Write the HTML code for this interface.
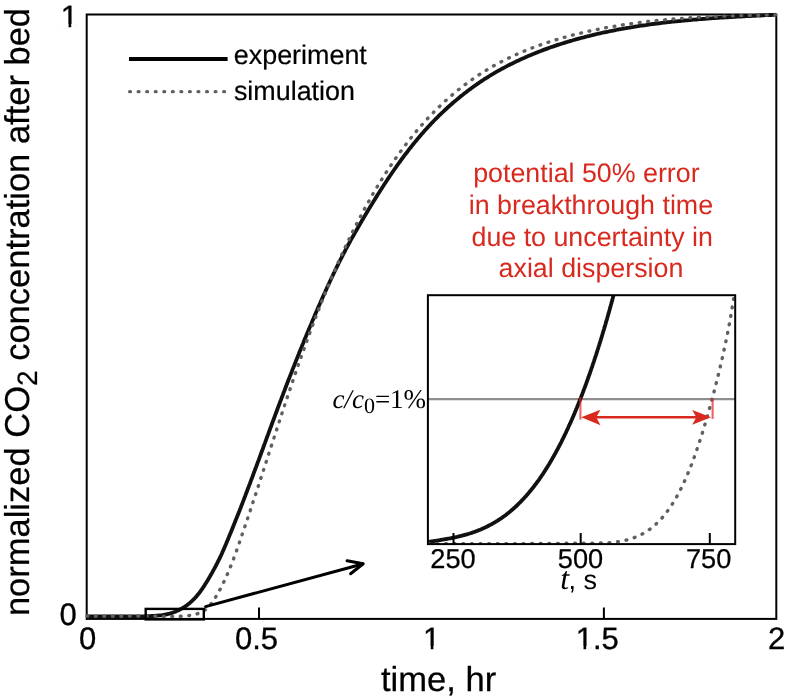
<!DOCTYPE html>
<html><head><meta charset="utf-8"><title>CO2 breakthrough</title>
<style>
html,body{margin:0;padding:0;background:#fff;}
body{width:785px;height:698px;overflow:hidden;}
svg{display:block;text-rendering:geometricPrecision;}
.sans{font-family:"Liberation Sans",Arial,Helvetica,sans-serif;}
.serif{font-family:"Liberation Serif","Times New Roman",Times,serif;}
</style></head>
<body>
<svg width="785" height="698" viewBox="0 0 785 698">
<rect x="0" y="0" width="785" height="698" fill="#fff"/>
<!-- y axis label -->
<text class="sans" font-size="34.5" fill="#000" stroke="#000" stroke-width="0.25" transform="translate(28.9,616.1) rotate(-90)">normalized CO<tspan font-size="28" dy="8.2">2</tspan><tspan dy="-8.2"> concentration after bed</tspan></text>
<!-- y tick labels -->
<g class="sans" font-size="31" fill="#000" stroke="#000" stroke-width="0.35">
<text x="60.7" y="26.7">1</text>
<text x="59.4" y="624.6">0</text>
<!-- x tick labels -->
<text x="79" y="649.2">0</text>
<text x="234.9" y="649.2">0.5</text>
<text x="422.9" y="649.2">1</text>
<text x="575.7" y="649.2">1.5</text>
<text x="767.9" y="649.2">2</text>
</g>
<text class="sans" font-size="34.6" fill="#000" stroke="#000" stroke-width="0.25" x="381" y="690.8">time, hr</text>
<!-- hide the foot serif of Liberation "1" (target font is Helvetica) -->
<rect x="62.50" y="24" width="6.02" height="4" fill="#fff"/>
<rect x="71.22" y="24" width="5.68" height="4" fill="#fff"/>
<rect x="424.70" y="646" width="6.02" height="4" fill="#fff"/>
<rect x="433.42" y="646" width="5.68" height="4" fill="#fff"/>
<rect x="577.50" y="646" width="6.02" height="4" fill="#fff"/>
<rect x="586.22" y="646" width="5.68" height="4" fill="#fff"/>
<!-- main frame -->
<rect x="86.7" y="14.5" width="689.6" height="604.4" fill="none" stroke="#000" stroke-width="2"/>
<line x1="259" y1="607.5" x2="259" y2="619" stroke="#000" stroke-width="2"/>
<line x1="603.9" y1="607.5" x2="603.9" y2="619" stroke="#000" stroke-width="2"/>
<!-- legend -->
<line x1="129" y1="58.9" x2="227.6" y2="58.9" stroke="#000" stroke-width="4"/>
<line x1="129.6" y1="91.7" x2="227" y2="91.7" stroke="#606060" stroke-width="3.2" stroke-linecap="round" stroke-dasharray="0.9 7.65"/>
<text class="sans" font-size="26.9" fill="#000" stroke="#000" stroke-width="0.2" x="233.8" y="63.7">experiment</text>
<text class="sans" font-size="26.9" fill="#000" stroke="#000" stroke-width="0.2" x="233.9" y="99.8">simulation</text>
<!-- main curves -->
<path d="M86.9,616.5L88.5,616.5L90.0,616.5L91.5,616.5L93.0,616.5L94.6,616.5L96.1,616.5L97.6,616.5L99.1,616.5L100.6,616.5L102.1,616.5L103.6,616.5L105.1,616.5L106.6,616.5L108.1,616.5L109.6,616.5L111.1,616.5L112.6,616.5L114.1,616.5L115.6,616.5L117.0,616.5L118.5,616.5L120.0,616.5L121.5,616.5L123.0,616.5L124.5,616.5L126.0,616.5L127.4,616.4L128.9,616.4L130.4,616.4L131.9,616.4L133.4,616.4L134.9,616.4L136.4,616.4L137.9,616.4L139.4,616.4L140.9,616.3L142.5,616.3L144.0,616.3L145.5,616.2L147.0,616.2L148.6,616.2L150.1,616.1L151.6,616.0L153.2,616.0L154.7,615.9L156.2,615.7L157.7,615.6L159.3,615.4L160.8,615.3L162.3,615.1L163.8,614.8L165.2,614.5L166.7,614.3L168.2,613.9L169.6,613.6L171.1,613.2L172.5,612.7L173.9,612.2L175.3,611.7L176.6,611.1L178.0,610.5L179.3,609.9L180.6,609.2L181.9,608.5L183.2,607.7L184.5,606.9L185.7,606.1L186.9,605.2L188.1,604.3L189.3,603.4L190.4,602.4L191.5,601.5L192.6,600.4L193.6,599.4L194.7,598.3L195.7,597.2L196.7,596.1L197.6,594.9L198.6,593.8L199.5,592.6L200.4,591.3L201.3,590.1L202.2,588.9L203.0,587.6L203.9,586.4L204.7,585.1L205.5,583.8L206.3,582.5L207.1,581.2L207.9,579.9L208.7,578.6L209.4,577.3L210.2,576.0L210.9,574.7L211.7,573.4L212.4,572.1L213.1,570.8L213.9,569.4L214.6,568.1L215.3,566.8L216.0,565.5L216.7,564.2L217.4,562.9L218.0,561.5L218.7,560.2L219.4,558.9L220.0,557.5L220.6,556.2L221.3,554.8L221.9,553.5L222.5,552.1L223.1,550.7L223.7,549.4L224.3,548.0L224.9,546.6L225.5,545.2L226.1,543.8L226.6,542.5L227.2,541.1L227.8,539.7L228.4,538.3L228.9,536.9L229.5,535.5L230.1,534.1L230.7,532.8L231.2,531.4L231.8,530.0L232.4,528.6L232.9,527.2L233.5,525.8L234.0,524.4L234.6,523.0L235.2,521.6L235.7,520.2L236.3,518.8L236.8,517.4L237.4,516.1L237.9,514.7L238.5,513.3L239.0,511.9L239.6,510.5L240.1,509.1L240.7,507.7L241.2,506.3L241.7,504.9L242.3,503.5L242.8,502.1L243.4,500.7L243.9,499.3L244.4,497.9L245.0,496.5L245.5,495.1L246.0,493.7L246.6,492.3L247.1,490.9L247.6,489.5L248.2,488.1L248.7,486.7L249.2,485.3L249.8,483.9L250.3,482.5L250.8,481.1L251.3,479.7L251.9,478.3L252.4,476.9L252.9,475.5L253.4,474.0L254.0,472.6L254.5,471.2L255.0,469.8L255.5,468.4L256.1,467.0L256.6,465.6L257.1,464.2L257.6,462.8L258.1,461.4L258.7,460.0L259.2,458.6L259.7,457.2L260.2,455.8L260.7,454.4L261.2,453.0L261.8,451.6L262.3,450.2L262.8,448.8L263.3,447.4L263.8,446.0L264.3,444.6L264.9,443.1L265.4,441.7L265.9,440.3L266.4,438.9L266.9,437.5L267.4,436.1L268.0,434.7L268.5,433.3L269.0,431.9L269.5,430.5L270.0,429.1L270.5,427.7L271.1,426.3L271.6,424.9L272.1,423.5L272.6,422.1L273.1,420.7L273.7,419.3L274.2,417.9L274.7,416.5L275.2,415.1L275.7,413.7L276.3,412.3L276.8,410.9L277.3,409.5L277.8,408.1L278.3,406.7L278.9,405.3L279.4,403.9L279.9,402.5L280.4,401.1L281.0,399.7L281.5,398.3L282.0,396.9L282.6,395.5L283.1,394.1L283.6,392.7L284.1,391.4L284.7,390.0L285.2,388.6L285.7,387.2L286.3,385.8L286.8,384.4L287.3,383.0L287.9,381.6L288.4,380.2L289.0,378.8L289.5,377.4L290.0,376.1L290.6,374.7L291.1,373.3L291.7,371.9L292.2,370.5L292.7,369.1L293.3,367.7L293.8,366.4L294.4,365.0L294.9,363.6L295.5,362.2L296.0,360.8L296.6,359.4L297.1,358.1L297.7,356.7L298.2,355.3L298.8,353.9L299.3,352.5L299.9,351.1L300.5,349.8L301.0,348.4L301.6,347.0L302.1,345.6L302.7,344.3L303.3,342.9L303.8,341.5L304.4,340.1L304.9,338.8L305.5,337.4L306.1,336.0L306.7,334.6L307.2,333.3L307.8,331.9L308.4,330.5L308.9,329.1L309.5,327.8L310.1,326.4L310.7,325.0L311.3,323.7L311.8,322.3L312.4,320.9L313.0,319.5L313.6,318.2L314.2,316.8L314.8,315.4L315.4,314.1L315.9,312.7L316.5,311.3L317.1,310.0L317.7,308.6L318.3,307.2L318.9,305.9L319.5,304.5L320.1,303.2L320.7,301.8L321.3,300.4L321.9,299.1L322.5,297.7L323.1,296.3L323.7,295.0L324.4,293.6L325.0,292.3L325.6,290.9L326.2,289.6L326.8,288.2L327.4,286.8L328.1,285.5L328.7,284.1L329.3,282.8L329.9,281.4L330.6,280.1L331.2,278.7L331.8,277.4L332.5,276.1L333.1,274.7L333.7,273.4L334.4,272.0L335.0,270.7L335.7,269.4L336.3,268.0L337.0,266.7L337.6,265.4L338.3,264.1L338.9,262.7L339.6,261.4L340.2,260.1L340.9,258.8L341.6,257.5L342.3,256.2L342.9,254.9L343.6,253.6L344.3,252.3L345.0,251.0L345.6,249.7L346.3,248.4L347.0,247.1L347.7,245.8L348.4,244.5L349.1,243.2L349.8,242.0L350.5,240.7L351.2,239.4L351.9,238.1L352.7,236.9L353.4,235.6L354.1,234.3L354.8,233.1L355.5,231.8L356.3,230.5L357.0,229.3L357.7,228.0L358.4,226.8L359.2,225.5L359.9,224.2L360.6,223.0L361.4,221.7L362.1,220.4L362.9,219.2L363.6,217.9L364.4,216.6L365.1,215.4L365.9,214.1L366.6,212.8L367.4,211.6L368.1,210.3L368.9,209.0L369.7,207.8L370.4,206.5L371.2,205.2L372.0,204.0L372.8,202.7L373.5,201.4L374.3,200.2L375.1,198.9L375.9,197.6L376.7,196.4L377.5,195.1L378.3,193.8L379.1,192.6L379.9,191.3L380.7,190.0L381.5,188.8L382.3,187.5L383.1,186.3L383.9,185.0L384.7,183.8L385.6,182.5L386.4,181.2L387.2,180.0L388.0,178.7L388.9,177.5L389.7,176.3L390.6,175.0L391.4,173.8L392.3,172.5L393.1,171.3L394.0,170.0L394.8,168.8L395.7,167.6L396.6,166.4L397.4,165.1L398.3,163.9L399.2,162.7L400.1,161.5L400.9,160.2L401.8,159.0L402.7,157.8L403.6,156.6L404.5,155.4L405.4,154.2L406.4,153.0L407.3,151.8L408.2,150.6L409.1,149.4L410.0,148.2L411.0,147.1L411.9,145.9L412.8,144.7L413.8,143.5L414.7,142.4L415.7,141.2L416.7,140.1L417.6,138.9L418.6,137.7L419.6,136.6L420.5,135.5L421.5,134.3L422.5,133.2L423.5,132.1L424.5,130.9L425.5,129.8L426.5,128.7L427.5,127.6L428.5,126.5L429.6,125.4L430.6,124.3L431.6,123.2L432.7,122.1L433.7,121.0L434.7,120.0L435.8,118.9L436.9,117.8L437.9,116.8L439.0,115.7L440.1,114.7L441.1,113.6L442.2,112.6L443.3,111.6L444.4,110.5L445.5,109.5L446.6,108.5L447.7,107.5L448.8,106.5L449.9,105.5L451.1,104.5L452.2,103.5L453.3,102.5L454.5,101.6L455.6,100.6L456.8,99.6L457.9,98.7L459.1,97.7L460.2,96.8L461.4,95.8L462.6,94.9L463.7,94.0L464.9,93.1L466.1,92.2L467.3,91.2L468.5,90.3L469.7,89.4L470.9,88.6L472.1,87.7L473.3,86.8L474.5,85.9L475.8,85.1L477.0,84.2L478.2,83.4L479.5,82.5L480.7,81.7L481.9,80.9L483.2,80.0L484.4,79.2L485.7,78.4L487.0,77.6L488.2,76.8L489.5,76.0L490.8,75.2L492.1,74.5L493.4,73.7L494.7,72.9L495.9,72.2L497.2,71.4L498.5,70.7L499.9,70.0L501.2,69.2L502.5,68.5L503.8,67.8L505.1,67.1L506.5,66.4L507.8,65.7L509.1,65.0L510.5,64.3L511.8,63.7L513.2,63.0L514.5,62.3L515.9,61.7L517.2,61.0L518.6,60.4L519.9,59.8L521.3,59.1L522.7,58.5L524.1,57.9L525.4,57.3L526.8,56.7L528.2,56.1L529.6,55.5L531.0,54.9L532.4,54.3L533.8,53.8L535.2,53.2L536.6,52.6L538.0,52.1L539.4,51.5L540.8,51.0L542.2,50.4L543.6,49.9L545.0,49.4L546.4,48.9L547.8,48.4L549.3,47.8L550.7,47.3L552.1,46.8L553.5,46.4L555.0,45.9L556.4,45.4L557.8,44.9L559.3,44.4L560.7,44.0L562.1,43.5L563.6,43.1L565.0,42.6L566.4,42.2L567.9,41.7L569.3,41.3L570.8,40.9L572.2,40.5L573.7,40.0L575.1,39.6L576.6,39.2L578.0,38.8L579.5,38.4L580.9,38.0L582.4,37.6L583.8,37.3L585.3,36.9L586.7,36.5L588.2,36.1L589.6,35.8L591.1,35.4L592.6,35.1L594.0,34.7L595.5,34.4L596.9,34.0L598.4,33.7L599.9,33.4L601.3,33.0L602.8,32.7L604.3,32.4L605.7,32.1L607.2,31.8L608.7,31.5L610.1,31.1L611.6,30.9L613.1,30.6L614.5,30.3L616.0,30.0L617.5,29.7L619.0,29.4L620.4,29.1L621.9,28.9L623.4,28.6L624.9,28.4L626.3,28.1L627.8,27.8L629.3,27.6L630.8,27.3L632.3,27.1L633.7,26.9L635.2,26.6L636.7,26.4L638.2,26.2L639.7,25.9L641.1,25.7L642.6,25.5L644.1,25.3L645.6,25.1L647.1,24.8L648.6,24.6L650.1,24.4L651.5,24.2L653.0,24.0L654.5,23.8L656.0,23.6L657.5,23.5L659.0,23.3L660.5,23.1L662.0,22.9L663.5,22.7L664.9,22.6L666.4,22.4L667.9,22.2L669.4,22.1L670.9,21.9L672.4,21.7L673.9,21.6L675.4,21.4L676.9,21.3L678.4,21.1L679.9,21.0L681.4,20.8L682.9,20.7L684.4,20.5L685.9,20.4L687.4,20.3L688.9,20.1L690.4,20.0L691.9,19.9L693.4,19.7L694.9,19.6L696.4,19.5L697.9,19.4L699.3,19.2L700.8,19.1L702.3,19.0L703.8,18.9L705.3,18.8L706.8,18.7L708.3,18.5L709.8,18.4L711.3,18.3L712.8,18.2L714.4,18.1L715.9,18.0L717.4,17.9L718.9,17.8L720.4,17.7L721.9,17.6L723.4,17.5L724.9,17.4L726.4,17.3L727.9,17.3L729.4,17.2L730.9,17.1L732.4,17.0L733.9,16.9L735.4,16.8L736.9,16.7L738.4,16.6L739.9,16.6L741.4,16.5L742.9,16.4L744.4,16.3L745.9,16.2L747.4,16.2L748.9,16.1L750.4,16.0L751.9,15.9L753.4,15.8L754.9,15.8L756.4,15.7L757.9,15.6L759.4,15.5L760.9,15.5L762.4,15.4L763.9,15.3L765.4,15.2L766.9,15.2L768.4,15.1L769.9,15.0L771.4,15.0L772.9,14.9L774.4,14.8L775.9,14.7" fill="none" stroke="#111" stroke-width="3.8" stroke-linejoin="round"/>
<path d="M86.9,616.0L88.5,616.1L90.0,616.1L91.5,616.2L93.0,616.2L94.5,616.2L96.0,616.3L97.6,616.3L99.1,616.3L100.6,616.3L102.1,616.3L103.6,616.3L105.1,616.3L106.6,616.3L108.1,616.3L109.6,616.3L111.1,616.3L112.6,616.3L114.1,616.3L115.6,616.3L117.1,616.2L118.6,616.2L120.1,616.2L121.6,616.2L123.1,616.2L124.6,616.2L126.1,616.1L127.6,616.1L129.1,616.1L130.6,616.1L132.1,616.1L133.6,616.0L135.1,616.0L136.6,616.0L138.1,616.0L139.6,616.0L141.1,616.0L142.6,616.0L144.1,616.0L145.6,616.0L147.1,616.0L148.6,616.0L150.1,616.1L151.6,616.1L153.1,616.1L154.7,616.1L156.2,616.2L157.7,616.2L159.2,616.3L160.7,616.3L162.2,616.4L163.8,616.4L165.3,616.4L166.8,616.5L168.3,616.5L169.8,616.5L171.4,616.5L172.9,616.5L174.4,616.5L175.9,616.5L177.4,616.5L178.9,616.4L180.4,616.3L181.9,616.3L183.4,616.2L184.9,616.0L186.4,615.9L187.9,615.7L189.4,615.5L190.9,615.3L192.4,615.0L193.8,614.7L195.3,614.4L196.7,614.0L198.1,613.5L199.4,613.1L200.7,612.5L202.0,611.9L203.3,611.2L204.5,610.4L205.6,609.6L206.7,608.6L207.7,607.7L208.8,606.6L209.7,605.5L210.7,604.3L211.6,603.2L212.4,601.9L213.3,600.7L214.1,599.4L215.0,598.1L215.8,596.8L216.5,595.5L217.3,594.2L218.1,592.9L218.8,591.6L219.5,590.3L220.3,589.0L221.0,587.6L221.7,586.3L222.4,584.9L223.0,583.6L223.7,582.3L224.3,580.9L225.0,579.5L225.6,578.2L226.2,576.8L226.8,575.4L227.4,574.1L228.0,572.7L228.6,571.3L229.2,569.9L229.8,568.5L230.3,567.1L230.9,565.7L231.5,564.3L232.0,562.9L232.5,561.5L233.1,560.1L233.6,558.7L234.1,557.3L234.6,555.9L235.2,554.5L235.7,553.1L236.2,551.7L236.7,550.3L237.2,548.8L237.7,547.4L238.2,546.0L238.7,544.6L239.2,543.2L239.7,541.7L240.2,540.3L240.6,538.9L241.1,537.5L241.6,536.0L242.1,534.6L242.6,533.2L243.1,531.8L243.6,530.4L244.1,528.9L244.5,527.5L245.0,526.1L245.5,524.7L246.0,523.2L246.5,521.8L247.0,520.4L247.4,519.0L247.9,517.5L248.4,516.1L248.9,514.7L249.3,513.3L249.8,511.8L250.3,510.4L250.8,509.0L251.2,507.6L251.7,506.1L252.2,504.7L252.7,503.3L253.1,501.8L253.6,500.4L254.1,499.0L254.5,497.6L255.0,496.1L255.5,494.7L256.0,493.3L256.4,491.8L256.9,490.4L257.4,489.0L257.8,487.6L258.3,486.1L258.8,484.7L259.2,483.3L259.7,481.8L260.2,480.4L260.6,479.0L261.1,477.5L261.6,476.1L262.0,474.7L262.5,473.3L262.9,471.8L263.4,470.4L263.9,469.0L264.3,467.5L264.8,466.1L265.3,464.7L265.7,463.2L266.2,461.8L266.7,460.4L267.1,459.0L267.6,457.5L268.0,456.1L268.5,454.7L269.0,453.2L269.4,451.8L269.9,450.4L270.4,448.9L270.8,447.5L271.3,446.1L271.7,444.7L272.2,443.2L272.7,441.8L273.1,440.4L273.6,438.9L274.1,437.5L274.5,436.1L275.0,434.6L275.5,433.2L275.9,431.8L276.4,430.4L276.9,428.9L277.3,427.5L277.8,426.1L278.3,424.6L278.7,423.2L279.2,421.8L279.7,420.4L280.1,418.9L280.6,417.5L281.1,416.1L281.5,414.6L282.0,413.2L282.5,411.8L282.9,410.4L283.4,408.9L283.9,407.5L284.4,406.1L284.8,404.6L285.3,403.2L285.8,401.8L286.2,400.4L286.7,398.9L287.2,397.5L287.7,396.1L288.2,394.7L288.6,393.2L289.1,391.8L289.6,390.4L290.1,389.0L290.5,387.5L291.0,386.1L291.5,384.7L292.0,383.3L292.5,381.9L293.0,380.4L293.4,379.0L293.9,377.6L294.4,376.2L294.9,374.7L295.4,373.3L295.9,371.9L296.4,370.5L296.9,369.1L297.4,367.6L297.9,366.2L298.3,364.8L298.8,363.4L299.3,362.0L299.8,360.6L300.3,359.1L300.8,357.7L301.3,356.3L301.8,354.9L302.3,353.5L302.8,352.1L303.4,350.6L303.9,349.2L304.4,347.8L304.9,346.4L305.4,345.0L305.9,343.6L306.4,342.2L306.9,340.7L307.4,339.3L308.0,337.9L308.5,336.5L309.0,335.1L309.5,333.7L310.0,332.3L310.6,330.9L311.1,329.5L311.6,328.1L312.1,326.6L312.7,325.2L313.2,323.8L313.7,322.4L314.3,321.0L314.8,319.6L315.3,318.2L315.9,316.8L316.4,315.4L316.9,314.0L317.5,312.6L318.0,311.2L318.6,309.8L319.1,308.4L319.7,307.0L320.2,305.6L320.8,304.2L321.3,302.8L321.9,301.4L322.4,300.0L323.0,298.6L323.6,297.2L324.1,295.8L324.7,294.4L325.3,293.0L325.8,291.6L326.4,290.2L327.0,288.9L327.5,287.5L328.1,286.1L328.7,284.7L329.3,283.3L329.9,281.9L330.4,280.5L331.0,279.1L331.6,277.7L332.2,276.4L332.8,275.0L333.4,273.6L334.0,272.2L334.6,270.8L335.2,269.4L335.8,268.1L336.4,266.7L337.0,265.3L337.6,263.9L338.2,262.5L338.8,261.2L339.4,259.8L340.1,258.4L340.7,257.0L341.3,255.7L341.9,254.3L342.6,252.9L343.2,251.6L343.8,250.2L344.5,248.8L345.1,247.5L345.7,246.1L346.4,244.7L347.0,243.4L347.7,242.0L348.3,240.7L349.0,239.3L349.6,238.0L350.3,236.6L350.9,235.2L351.6,233.9L352.3,232.5L352.9,231.2L353.6,229.9L354.3,228.5L355.0,227.2L355.6,225.8L356.3,224.5L357.0,223.1L357.7,221.8L358.4,220.5L359.1,219.1L359.8,217.8L360.5,216.5L361.2,215.1L361.9,213.8L362.6,212.5L363.3,211.2L364.0,209.8L364.7,208.5L365.5,207.2L366.2,205.9L366.9,204.6L367.6,203.3L368.4,202.0L369.1,200.7L369.9,199.3L370.6,198.0L371.3,196.7L372.1,195.4L372.8,194.1L373.6,192.8L374.4,191.6L375.1,190.3L375.9,189.0L376.7,187.7L377.4,186.4L378.2,185.1L379.0,183.8L379.8,182.6L380.6,181.3L381.4,180.0L382.2,178.7L383.0,177.5L383.8,176.2L384.6,175.0L385.4,173.7L386.2,172.4L387.0,171.2L387.8,169.9L388.7,168.7L389.5,167.4L390.3,166.2L391.2,164.9L392.0,163.7L392.8,162.5L393.7,161.2L394.5,160.0L395.4,158.8L396.3,157.5L397.1,156.3L398.0,155.1L398.9,153.9L399.7,152.7L400.6,151.5L401.5,150.2L402.4,149.0L403.3,147.8L404.2,146.6L405.1,145.4L406.0,144.3L406.9,143.1L407.8,141.9L408.7,140.7L409.7,139.5L410.6,138.4L411.5,137.2L412.5,136.0L413.4,134.9L414.4,133.7L415.3,132.5L416.3,131.4L417.2,130.2L418.2,129.1L419.2,128.0L420.2,126.8L421.1,125.7L422.1,124.6L423.1,123.5L424.1,122.3L425.1,121.2L426.1,120.1L427.2,119.0L428.2,117.9L429.2,116.8L430.2,115.7L431.3,114.7L432.3,113.6L433.4,112.5L434.4,111.4L435.5,110.4L436.5,109.3L437.6,108.3L438.7,107.2L439.8,106.2L440.8,105.1L441.9,104.1L443.0,103.1L444.1,102.1L445.2,101.0L446.4,100.0L447.5,99.0L448.6,98.0L449.7,97.0L450.9,96.1L452.0,95.1L453.1,94.1L454.3,93.1L455.5,92.2L456.6,91.2L457.8,90.3L459.0,89.3L460.1,88.4L461.3,87.5L462.5,86.5L463.7,85.6L464.9,84.7L466.1,83.8L467.3,82.9L468.5,82.0L469.7,81.1L470.9,80.3L472.2,79.4L473.4,78.5L474.6,77.7L475.9,76.8L477.1,76.0L478.4,75.2L479.6,74.4L480.9,73.5L482.2,72.7L483.4,71.9L484.7,71.1L486.0,70.4L487.3,69.6L488.5,68.8L489.8,68.1L491.1,67.3L492.4,66.6L493.7,65.8L495.0,65.1L496.3,64.4L497.7,63.7L499.0,62.9L500.3,62.2L501.6,61.6L503.0,60.9L504.3,60.2L505.6,59.5L507.0,58.9L508.3,58.2L509.7,57.6L511.0,56.9L512.4,56.3L513.7,55.6L515.1,55.0L516.5,54.4L517.8,53.8L519.2,53.2L520.6,52.6L522.0,52.0L523.3,51.4L524.7,50.9L526.1,50.3L527.5,49.7L528.9,49.2L530.3,48.6L531.7,48.1L533.1,47.6L534.5,47.0L535.9,46.5L537.3,46.0L538.7,45.5L540.1,45.0L541.6,44.5L543.0,44.0L544.4,43.5L545.8,43.0L547.3,42.5L548.7,42.1L550.1,41.6L551.5,41.1L553.0,40.7L554.4,40.2L555.9,39.8L557.3,39.4L558.7,38.9L560.2,38.5L561.6,38.1L563.1,37.7L564.5,37.3L566.0,36.9L567.4,36.5L568.9,36.1L570.3,35.7L571.8,35.3L573.3,34.9L574.7,34.6L576.2,34.2L577.7,33.8L579.1,33.5L580.6,33.1L582.0,32.8L583.5,32.4L585.0,32.1L586.5,31.8L587.9,31.4L589.4,31.1L590.9,30.8L592.3,30.5L593.8,30.2L595.3,29.9L596.8,29.6L598.2,29.3L599.7,29.0L601.2,28.7L602.7,28.4L604.1,28.1L605.6,27.8L607.1,27.6L608.6,27.3L610.1,27.0L611.5,26.8L613.0,26.5L614.5,26.3L616.0,26.0L617.5,25.8L618.9,25.5L620.4,25.3L621.9,25.1L623.4,24.8L624.9,24.6L626.3,24.4L627.8,24.2L629.3,23.9L630.8,23.7L632.3,23.5L633.7,23.3L635.2,23.1L636.7,22.9L638.2,22.7L639.7,22.5L641.2,22.3L642.7,22.2L644.1,22.0L645.6,21.8L647.1,21.6L648.6,21.4L650.1,21.3L651.6,21.1L653.1,21.0L654.5,20.8L656.0,20.6L657.5,20.5L659.0,20.3L660.5,20.2L662.0,20.0L663.5,19.9L665.0,19.8L666.5,19.6L667.9,19.5L669.4,19.4L670.9,19.2L672.4,19.1L673.9,19.0L675.4,18.9L676.9,18.7L678.4,18.6L679.9,18.5L681.4,18.4L682.9,18.3L684.4,18.2L685.9,18.1L687.3,18.0L688.8,17.9L690.3,17.8L691.8,17.7L693.3,17.6L694.8,17.5L696.3,17.4L697.8,17.3L699.3,17.2L700.8,17.2L702.3,17.1L703.8,17.0L705.3,16.9L706.8,16.9L708.3,16.8L709.8,16.7L711.3,16.6L712.8,16.6L714.3,16.5L715.8,16.5L717.3,16.4L718.8,16.3L720.3,16.3L721.8,16.2L723.3,16.2L724.8,16.1L726.3,16.1L727.8,16.0L729.3,16.0L730.8,15.9L732.3,15.9L733.8,15.8L735.3,15.8L736.8,15.7L738.3,15.7L739.8,15.6L741.3,15.6L742.8,15.6L744.4,15.5L745.9,15.5L747.4,15.5L748.9,15.4L750.4,15.4L751.9,15.4L753.4,15.3L754.9,15.3L756.4,15.3L757.9,15.2L759.4,15.2L760.9,15.2L762.4,15.2L764.0,15.1L765.5,15.1L767.0,15.1L768.5,15.1L770.0,15.0L771.5,15.0L773.0,15.0L774.5,15.0L776.0,14.9" fill="none" stroke="#606060" stroke-width="3.4" stroke-linecap="round" stroke-dasharray="0.8 7.7"/>
<!-- zoom box and arrow -->
<rect x="145.7" y="608.9" width="58.1" height="10.5" fill="none" stroke="#000" stroke-width="2.4"/>
<line x1="205.6" y1="606.6" x2="362.6" y2="564" stroke="#000" stroke-width="3" stroke-linecap="round"/>
<polyline points="347.1,560.7 363.2,563.8 350.6,573.7" fill="none" stroke="#000" stroke-width="3" stroke-linecap="round" stroke-linejoin="round"/>
<!-- annotation -->
<g class="sans" font-size="26.8" fill="#d9291e">
<text x="473.2" y="181.7">potential 50% error</text>
<text x="468.8" y="213.6">in breakthrough time</text>
<text x="471.5" y="245.5">due to uncertainty in</text>
<text x="498.6" y="277.4">axial dispersion</text>
</g>
<!-- inset -->
<rect x="427.9" y="295.2" width="307.3" height="248.9" fill="#fff" stroke="none"/>
<line x1="427.9" y1="399.2" x2="735.2" y2="399.2" stroke="#8e8e8e" stroke-width="2.2"/>
<clipPath id="insetclip"><rect x="427.9" y="295.2" width="307.3" height="248.9"/></clipPath>
<g clip-path="url(#insetclip)">
<path d="M428.5,541.9L429.5,541.7L430.5,541.6L431.5,541.4L432.5,541.3L433.4,541.1L434.4,541.0L435.4,540.8L436.4,540.7L437.4,540.5L438.4,540.3L439.4,540.2L440.4,540.0L441.3,539.9L442.3,539.7L443.3,539.5L444.3,539.4L445.3,539.2L446.3,539.0L447.3,538.9L448.2,538.7L449.2,538.5L450.2,538.3L451.2,538.1L452.2,537.9L453.2,537.7L454.1,537.5L455.1,537.3L456.1,537.1L457.1,536.9L458.0,536.6L459.0,536.4L460.0,536.2L461.0,535.9L461.9,535.7L462.9,535.4L463.9,535.2L464.8,534.9L465.8,534.6L466.7,534.4L467.7,534.1L468.7,533.8L469.6,533.5L470.6,533.2L471.5,532.9L472.5,532.6L473.4,532.2L474.4,531.9L475.3,531.6L476.2,531.2L477.2,530.9L478.1,530.5L479.0,530.1L480.0,529.8L480.9,529.4L481.8,529.0L482.7,528.6L483.6,528.2L484.5,527.8L485.4,527.3L486.3,526.9L487.2,526.5L488.1,526.0L489.0,525.5L489.9,525.1L490.8,524.6L491.7,524.1L492.5,523.6L493.4,523.2L494.3,522.7L495.1,522.1L496.0,521.6L496.8,521.1L497.7,520.6L498.5,520.0L499.4,519.5L500.2,518.9L501.0,518.4L501.9,517.8L502.7,517.2L503.5,516.6L504.3,516.1L505.1,515.5L505.9,514.9L506.7,514.3L507.5,513.6L508.3,513.0L509.0,512.4L509.8,511.8L510.6,511.1L511.3,510.5L512.1,509.8L512.9,509.2L513.6,508.5L514.4,507.8L515.1,507.2L515.8,506.5L516.6,505.8L517.3,505.1L518.0,504.4L518.7,503.7L519.4,503.0L520.1,502.3L520.8,501.6L521.5,500.9L522.2,500.2L522.9,499.4L523.6,498.7L524.3,498.0L524.9,497.2L525.6,496.5L526.3,495.7L526.9,495.0L527.6,494.2L528.2,493.5L528.9,492.7L529.5,491.9L530.2,491.2L530.8,490.4L531.4,489.6L532.1,488.8L532.7,488.1L533.3,487.3L533.9,486.5L534.5,485.7L535.1,484.9L535.7,484.1L536.3,483.3L536.9,482.5L537.5,481.7L538.1,480.9L538.7,480.1L539.3,479.2L539.8,478.4L540.4,477.6L541.0,476.8L541.5,475.9L542.1,475.1L542.7,474.3L543.2,473.5L543.8,472.6L544.3,471.8L544.9,470.9L545.4,470.1L545.9,469.3L546.5,468.4L547.0,467.6L547.5,466.7L548.0,465.9L548.6,465.0L549.1,464.2L549.6,463.3L550.1,462.4L550.6,461.6L551.1,460.7L551.6,459.9L552.1,459.0L552.6,458.1L553.1,457.3L553.6,456.4L554.1,455.5L554.6,454.6L555.1,453.8L555.6,452.9L556.0,452.0L556.5,451.1L557.0,450.3L557.5,449.4L557.9,448.5L558.4,447.6L558.9,446.7L559.3,445.8L559.8,444.9L560.3,444.1L560.7,443.2L561.2,442.3L561.6,441.4L562.1,440.5L562.5,439.6L562.9,438.7L563.4,437.8L563.8,436.9L564.3,436.0L564.7,435.1L565.1,434.2L565.6,433.3L566.0,432.4L566.4,431.5L566.8,430.6L567.3,429.7L567.7,428.8L568.1,427.9L568.5,427.0L568.9,426.0L569.3,425.1L569.8,424.2L570.2,423.3L570.6,422.4L571.0,421.5L571.4,420.6L571.8,419.7L572.2,418.7L572.6,417.8L573.0,416.9L573.4,416.0L573.8,415.1L574.2,414.1L574.6,413.2L574.9,412.3L575.3,411.4L575.7,410.5L576.1,409.5L576.5,408.6L576.9,407.7L577.2,406.8L577.6,405.8L578.0,404.9L578.4,404.0L578.7,403.0L579.1,402.1L579.5,401.2L579.8,400.3L580.2,399.3L580.6,398.4L580.9,397.5L581.3,396.5L581.7,395.6L582.0,394.7L582.4,393.7L582.7,392.8L583.1,391.9L583.4,390.9L583.8,390.0L584.1,389.1L584.5,388.1L584.8,387.2L585.2,386.2L585.5,385.3L585.9,384.4L586.2,383.4L586.6,382.5L586.9,381.5L587.2,380.6L587.6,379.7L587.9,378.7L588.2,377.8L588.6,376.8L588.9,375.9L589.2,375.0L589.6,374.0L589.9,373.1L590.2,372.1L590.6,371.2L590.9,370.2L591.2,369.3L591.5,368.3L591.9,367.4L592.2,366.4L592.5,365.5L592.8,364.5L593.1,363.6L593.5,362.7L593.8,361.7L594.1,360.8L594.4,359.8L594.7,358.9L595.0,357.9L595.3,357.0L595.7,356.0L596.0,355.1L596.3,354.1L596.6,353.2L596.9,352.2L597.2,351.2L597.5,350.3L597.8,349.3L598.1,348.4L598.4,347.4L598.7,346.5L599.0,345.5L599.3,344.6L599.6,343.6L599.9,342.7L600.2,341.7L600.5,340.8L600.8,339.8L601.1,338.8L601.4,337.9L601.7,336.9L602.0,336.0L602.2,335.0L602.5,334.1L602.8,333.1L603.1,332.1L603.4,331.2L603.7,330.2L604.0,329.3L604.3,328.3L604.5,327.4L604.8,326.4L605.1,325.4L605.4,324.5L605.7,323.5L605.9,322.6L606.2,321.6L606.5,320.6L606.8,319.7L607.1,318.7L607.3,317.7L607.6,316.8L607.9,315.8L608.2,314.9L608.4,313.9L608.7,312.9L609.0,312.0L609.2,311.0L609.5,310.1L609.8,309.1L610.0,308.1L610.3,307.2L610.6,306.2L610.8,305.2L611.1,304.3L611.4,303.3L611.6,302.3L611.9,301.4L612.2,300.4L612.4,299.4L612.7,298.5L612.9,297.5L613.2,296.5L613.5,295.6L613.7,294.6L613.9,294.0" fill="none" stroke="#111" stroke-width="3.8" stroke-linejoin="round"/>
<path d="M428.5,543.6L429.5,543.6L430.5,543.6L431.5,543.6L432.5,543.6L433.5,543.6L434.5,543.6L435.5,543.6L436.5,543.6L437.5,543.6L438.5,543.6L439.5,543.6L440.5,543.6L441.5,543.6L442.5,543.6L443.5,543.6L444.5,543.6L445.5,543.6L446.5,543.6L447.5,543.6L448.5,543.7L449.5,543.7L450.5,543.7L451.5,543.7L452.5,543.7L453.5,543.7L454.5,543.7L455.5,543.7L456.5,543.7L457.5,543.7L458.5,543.7L459.5,543.7L460.5,543.7L461.5,543.7L462.5,543.7L463.5,543.7L464.5,543.7L465.5,543.7L466.5,543.7L467.5,543.7L468.5,543.7L469.5,543.7L470.5,543.7L471.5,543.7L472.5,543.7L473.5,543.7L474.5,543.7L475.5,543.7L476.5,543.7L477.5,543.7L478.5,543.7L479.5,543.7L480.5,543.7L481.5,543.7L482.5,543.7L483.5,543.7L484.5,543.7L485.5,543.7L486.5,543.7L487.5,543.7L488.5,543.7L489.5,543.7L490.5,543.7L491.5,543.7L492.5,543.7L493.5,543.7L494.5,543.7L495.5,543.7L496.5,543.7L497.5,543.7L498.5,543.7L499.5,543.7L500.5,543.7L501.5,543.7L502.5,543.7L503.5,543.7L504.5,543.6L505.5,543.6L506.5,543.6L507.5,543.6L508.5,543.6L509.5,543.6L510.5,543.6L511.5,543.6L512.5,543.6L513.5,543.6L514.5,543.6L515.5,543.6L516.5,543.6L517.5,543.6L518.5,543.6L519.5,543.6L520.5,543.6L521.5,543.6L522.5,543.6L523.5,543.6L524.5,543.6L525.5,543.6L526.5,543.6L527.5,543.6L528.5,543.6L529.5,543.6L530.5,543.5L531.5,543.5L532.5,543.5L533.5,543.5L534.5,543.5L535.5,543.5L536.5,543.5L537.5,543.5L538.5,543.5L539.5,543.5L540.5,543.5L541.5,543.5L542.5,543.5L543.5,543.5L544.5,543.5L545.5,543.5L546.5,543.5L547.5,543.5L548.5,543.4L549.5,543.4L550.5,543.4L551.5,543.4L552.5,543.4L553.5,543.4L554.5,543.4L555.5,543.4L556.5,543.4L557.5,543.4L558.5,543.4L559.5,543.4L560.5,543.4L561.5,543.4L562.5,543.4L563.5,543.4L564.5,543.3L565.5,543.3L566.5,543.3L567.5,543.3L568.5,543.3L569.5,543.3L570.5,543.3L571.5,543.3L572.5,543.3L573.5,543.3L574.5,543.3L575.5,543.3L576.5,543.3L577.5,543.2L578.5,543.2L579.5,543.2L580.5,543.2L581.5,543.2L582.5,543.2L583.5,543.2L584.5,543.2L585.5,543.2L586.5,543.2L587.5,543.2L588.5,543.2L589.5,543.2L590.5,543.1L591.5,543.1L592.5,543.1L593.5,543.1L594.5,543.1L595.5,543.1L596.5,543.1L597.5,543.1L598.5,543.1L599.5,543.0L600.5,543.0L601.5,543.0L602.5,543.0L603.5,542.9L604.5,542.9L605.5,542.9L606.5,542.8L607.5,542.8L608.5,542.7L609.5,542.6L610.5,542.6L611.5,542.5L612.5,542.4L613.5,542.3L614.5,542.2L615.5,542.1L616.5,541.9L617.4,541.8L618.4,541.7L619.4,541.5L620.4,541.3L621.4,541.2L622.4,541.0L623.4,540.8L624.3,540.6L625.3,540.3L626.3,540.1L627.2,539.9L628.2,539.6L629.2,539.3L630.1,539.0L631.1,538.7L632.0,538.4L633.0,538.1L633.9,537.8L634.9,537.4L635.8,537.1L636.7,536.7L637.6,536.3L638.5,535.9L639.5,535.5L640.4,535.0L641.2,534.6L642.1,534.1L643.0,533.6L643.9,533.1L644.7,532.6L645.6,532.1L646.4,531.6L647.3,531.0L648.1,530.5L648.9,529.9L649.7,529.3L650.5,528.7L651.3,528.1L652.1,527.5L652.9,526.9L653.7,526.2L654.4,525.6L655.2,524.9L655.9,524.2L656.6,523.5L657.4,522.8L658.1,522.1L658.8,521.4L659.5,520.7L660.2,520.0L660.8,519.3L661.5,518.5L662.2,517.8L662.8,517.0L663.5,516.2L664.1,515.5L664.7,514.7L665.3,513.9L666.0,513.1L666.6,512.3L667.2,511.5L667.8,510.7L668.3,509.9L668.9,509.1L669.5,508.3L670.1,507.4L670.6,506.6L671.2,505.8L671.7,504.9L672.3,504.1L672.8,503.2L673.3,502.4L673.8,501.5L674.4,500.7L674.9,499.8L675.4,499.0L675.9,498.1L676.4,497.2L676.9,496.4L677.3,495.5L677.8,494.6L678.3,493.7L678.8,492.8L679.2,492.0L679.7,491.1L680.2,490.2L680.6,489.3L681.1,488.4L681.5,487.5L681.9,486.6L682.4,485.7L682.8,484.8L683.2,483.9L683.7,483.0L684.1,482.1L684.5,481.2L684.9,480.3L685.3,479.4L685.7,478.4L686.1,477.5L686.5,476.6L686.9,475.7L687.3,474.8L687.7,473.9L688.1,472.9L688.5,472.0L688.9,471.1L689.2,470.2L689.6,469.2L690.0,468.3L690.4,467.4L690.7,466.4L691.1,465.5L691.5,464.6L691.8,463.6L692.2,462.7L692.5,461.8L692.9,460.8L693.2,459.9L693.6,459.0L693.9,458.0L694.3,457.1L694.6,456.1L694.9,455.2L695.3,454.3L695.6,453.3L695.9,452.4L696.3,451.4L696.6,450.5L696.9,449.5L697.2,448.6L697.6,447.7L697.9,446.7L698.2,445.8L698.5,444.8L698.8,443.9L699.2,442.9L699.5,442.0L699.8,441.0L700.1,440.1L700.4,439.1L700.7,438.2L701.0,437.2L701.3,436.3L701.6,435.3L701.9,434.3L702.2,433.4L702.5,432.4L702.8,431.5L703.1,430.5L703.4,429.6L703.7,428.6L704.0,427.7L704.3,426.7L704.6,425.7L704.8,424.8L705.1,423.8L705.4,422.9L705.7,421.9L706.0,420.9L706.3,420.0L706.5,419.0L706.8,418.1L707.1,417.1L707.4,416.1L707.6,415.2L707.9,414.2L708.2,413.3L708.5,412.3L708.7,411.3L709.0,410.4L709.3,409.4L709.5,408.4L709.8,407.5L710.1,406.5L710.3,405.6L710.6,404.6L710.9,403.6L711.1,402.7L711.4,401.7L711.7,400.7L711.9,399.8L712.2,398.8L712.4,397.8L712.7,396.9L712.9,395.9L713.2,394.9L713.5,394.0L713.7,393.0L714.0,392.0L714.2,391.1L714.5,390.1L714.7,389.1L715.0,388.2L715.2,387.2L715.5,386.2L715.7,385.3L716.0,384.3L716.2,383.3L716.4,382.3L716.7,381.4L716.9,380.4L717.2,379.4L717.4,378.5L717.7,377.5L717.9,376.5L718.1,375.6L718.4,374.6L718.6,373.6L718.9,372.6L719.1,371.7L719.3,370.7L719.6,369.7L719.8,368.8L720.0,367.8L720.3,366.8L720.5,365.8L720.7,364.9L720.9,363.9L721.2,362.9L721.4,361.9L721.6,361.0L721.9,360.0L722.1,359.0L722.3,358.0L722.5,357.1L722.7,356.1L723.0,355.1L723.2,354.1L723.4,353.2L723.6,352.2L723.8,351.2L724.0,350.2L724.2,349.3L724.5,348.3L724.7,347.3L724.9,346.3L725.1,345.3L725.3,344.4L725.5,343.4L725.7,342.4L725.9,341.4L726.1,340.4L726.3,339.5L726.5,338.5L726.7,337.5L726.9,336.5L727.1,335.5L727.3,334.6L727.5,333.6L727.7,332.6L727.9,331.6L728.1,330.6L728.3,329.7L728.4,328.7L728.6,327.7L728.8,326.7L729.0,325.7L729.2,324.7L729.4,323.8L729.6,322.8L729.7,321.8L729.9,320.8L730.1,319.8L730.3,318.8L730.4,317.9L730.6,316.9L730.8,315.9L731.0,314.9L731.1,313.9L731.3,312.9L731.5,312.0L731.7,311.0L731.8,310.0L732.0,309.0L732.1,308.0L732.3,307.0L732.5,306.0L732.6,305.0L732.8,304.1L733.0,303.1L733.1,302.1L733.3,301.1L733.4,300.1L733.6,299.1L733.7,298.1L733.8,297.7" fill="none" stroke="#606060" stroke-width="3.4" stroke-linecap="round" stroke-dasharray="0.8 7.8"/>
</g>
<rect x="427.9" y="295.2" width="307.3" height="248.9" fill="none" stroke="#000" stroke-width="2"/>
<line x1="453.5" y1="533" x2="453.5" y2="544" stroke="#000" stroke-width="2"/>
<line x1="580.7" y1="533" x2="580.7" y2="544" stroke="#000" stroke-width="2"/>
<line x1="709.8" y1="533" x2="709.8" y2="544" stroke="#000" stroke-width="2"/>
<g class="sans" font-size="27.2" fill="#000" stroke="#000" stroke-width="0.25">
<text x="430.3" y="567.6">250</text>
<text x="557.8" y="567.6">500</text>
<text x="686" y="567.6">750</text>
</g>
<text class="serif" font-size="32" font-style="italic" fill="#000" x="560.3" y="588.8">t</text>
<text class="sans" font-size="27" fill="#000" x="568.5" y="588.8">, s</text>
<text class="serif" font-size="27" fill="#000" x="332.4" y="408.2"><tspan font-style="italic">c/c</tspan><tspan font-size="22" dy="5">0</tspan><tspan dy="-5">=1%</tspan></text>
<!-- red arrow -->
<line x1="580.4" y1="397.2" x2="580.4" y2="419.7" stroke="#e82228" stroke-opacity="0.72" stroke-width="2.1"/>
<line x1="712.6" y1="398.4" x2="712.6" y2="418.9" stroke="#e82228" stroke-opacity="0.72" stroke-width="2.1"/>
<line x1="596" y1="417.3" x2="697" y2="417.3" stroke="#d9291e" stroke-width="2.4"/>
<polygon points="581.2,417.3 600.5,409.8 596.2,417.3 600.5,425.2" fill="#d9291e"/>
<polygon points="711,417.3 692.2,410.1 696.4,417.3 692.2,424.8" fill="#d9291e"/>
</svg>
</body></html>
